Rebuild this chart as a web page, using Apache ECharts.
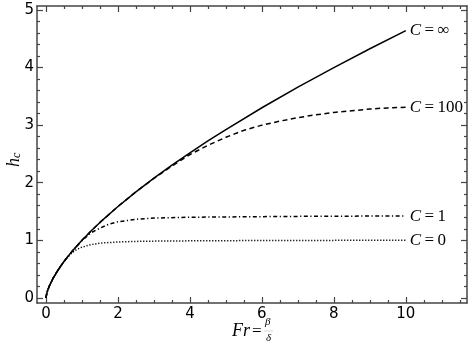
<!DOCTYPE html>
<html>
<head>
<meta charset="utf-8">
<script src="https://cdn.jsdelivr.net/npm/echarts@6/dist/echarts.min.js"></script>
<style>
html,body{margin:0;padding:0;background:#fff;}
#chart{width:474px;height:353px;}
</style>
</head>
<body>
<div id="chart"></div>
<script>
// ---- data ----
var xInf = [0, 0.02, 0.05, 0.1, 0.2, 0.3, 0.4, 0.5, 0.6, 0.75, 1, 1.25, 1.5, 2, 2.5, 3, 3.5, 4, 4.5, 5, 6, 7, 8, 9, 10];
var hInf = [0, 0.074, 0.136, 0.215, 0.342, 0.448, 0.543, 0.630, 0.711, 0.825, 1.0, 1.160, 1.310, 1.587, 1.842, 2.080, 2.305, 2.520, 2.726, 2.924, 3.302, 3.659, 4.0, 4.327, 4.642];

var x100 = [0, 0.02, 0.05, 0.1, 0.2, 0.3, 0.4, 0.5, 0.6, 0.75, 1, 1.25, 1.5, 2, 2.5, 3, 3.5, 4, 4.5, 5, 5.5, 6, 6.5, 7, 7.5, 8, 8.5, 9, 9.5, 10];
var h100 = [0, 0.074, 0.136, 0.215, 0.342, 0.448, 0.543, 0.630, 0.711, 0.825, 1.0, 1.160, 1.310, 1.587, 1.842, 2.075, 2.29, 2.49, 2.65, 2.79, 2.91, 3.00, 3.07, 3.13, 3.18, 3.22, 3.25, 3.28, 3.30, 3.31];

var x1 = [0, 0.02, 0.05, 0.1, 0.2, 0.3, 0.4, 0.5, 0.6, 0.75, 1, 1.25, 1.5, 1.75, 2, 2.5, 3, 4, 5, 6, 7, 8, 9, 10];
var h1 = [0, 0.074, 0.136, 0.215, 0.342, 0.448, 0.543, 0.630, 0.711, 0.825, 0.995, 1.13, 1.21, 1.28, 1.32, 1.365, 1.385, 1.40, 1.405, 1.41, 1.415, 1.418, 1.42, 1.42];

var x0 = [0, 0.02, 0.05, 0.1, 0.2, 0.3, 0.4, 0.5, 0.6, 0.7, 0.85, 1, 1.25, 1.5, 2, 2.5, 3, 4, 5, 6, 8, 10];
var h0 = [0, 0.074, 0.136, 0.215, 0.342, 0.448, 0.543, 0.630, 0.705, 0.77, 0.84, 0.88, 0.925, 0.95, 0.97, 0.98, 0.985, 0.99, 0.993, 0.995, 0.998, 1.0];

var labelInf = 'C=∞';
var label100 = 'C=100';
var label1 = 'C=1';
var label0 = 'C=0';

var xMajor = [0, 2, 4, 6, 8, 10];
var xMinor = [0.5, 1, 1.5, 2.5, 3, 3.5, 4.5, 5, 5.5, 6.5, 7, 7.5, 8.5, 9, 9.5, 10.5, 11, 11.5];
var yMajor = [0, 1, 2, 3, 4, 5];
var yMinor = [0.2, 0.4, 0.6, 0.8, 1.2, 1.4, 1.6, 1.8, 2.2, 2.4, 2.6, 2.8, 3.2, 3.4, 3.6, 3.8, 4.2, 4.4, 4.6, 4.8];

// ---- chart ----
function pairs(xs, ys) { return xs.map(function (x, i) { return [x, ys[i]]; }); }

var XMIN = -0.25, XMAX = 11.7, YMIN = -0.09, YMAX = 5.07;
var axisCol = '#444';
var serif = '"Liberation Serif", "DejaVu Serif", serif';

function xAx(pos, vals, len, showLine, showLabel) {
  return {
    type: 'value', position: pos, min: XMIN, max: XMAX,
    axisLine: { show: showLine, onZero: false, lineStyle: { color: axisCol, width: 1.5 } },
    axisTick: { show: true, inside: true, length: len, customValues: vals, lineStyle: { color: axisCol, width: 1.2 } },
    axisLabel: showLabel ? { show: true, customValues: vals, color: '#000', fontSize: 15, fontFamily: '"DejaVu Sans", sans-serif', margin: 4 } : { show: false },
    splitLine: { show: false }
  };
}
function yAx(pos, vals, len, showLine, showLabel) {
  return {
    type: 'value', position: pos, min: YMIN, max: YMAX,
    axisLine: { show: showLine, onZero: false, lineStyle: { color: axisCol, width: 1.5 } },
    axisTick: { show: true, inside: true, length: len, customValues: vals, lineStyle: { color: axisCol, width: 1.2 } },
    axisLabel: showLabel ? { show: true, customValues: vals, color: '#000', fontSize: 15, fontFamily: '"DejaVu Sans", sans-serif', margin: 3 } : { show: false },
    splitLine: { show: false }
  };
}

function endLab(text) {
  var rest = text.slice(2);
  return {
    show: true, distance: 4,
    formatter: '{i|C}{n|\u2009=\u2009' + rest + '}',
    rich: {
      i: { fontFamily: serif, fontStyle: 'italic', fontSize: 17, color: '#000' },
      n: { fontFamily: serif, fontSize: 17, color: '#000' }
    }
  };
}

function ser(xs, ys, type, lab) {
  return {
    type: 'line', xAxisIndex: 0, yAxisIndex: 0,
    data: pairs(xs, ys), showSymbol: false, symbol: 'none', smooth: false,
    lineStyle: { color: '#000', width: 1.5, type: type },
    endLabel: endLab(lab), animation: false
  };
}

var chart = echarts.init(document.getElementById('chart'), null, { renderer: 'canvas' });
chart.setOption({
  animation: false,
  backgroundColor: '#fff',
  grid: { left: 37, right: 7, top: 6, bottom: 50, containLabel: false },
  xAxis: [
    xAx('bottom', xMajor, 6, true, true),
    xAx('bottom', xMinor, 3, false, false),
    xAx('top', xMajor, 6, true, false),
    xAx('top', xMinor, 3, false, false)
  ],
  yAxis: [
    yAx('left', yMajor, 6, true, true),
    yAx('left', yMinor, 3, false, false),
    yAx('right', yMajor, 6, true, false),
    yAx('right', yMinor, 3, false, false)
  ],
  series: [
    ser(xInf, hInf, 'solid', labelInf),
    ser(x100, h100, [5, 3.5], label100),
    ser(x1, h1, [4, 2.5, 1.2, 2.5], label1),
    ser(x0, h0, [1.2, 1.8], label0)
  ],
  graphic: [
    { type: 'text', x: 5, y: 167, rotation: Math.PI / 2,
      style: { text: '{h|h}{c|c}', rich: {
        h: { fontFamily: serif, fontStyle: 'italic', fontSize: 18, fill: '#000' },
        c: { fontFamily: serif, fontStyle: 'italic', fontSize: 12, fill: '#000', padding: [6, 0, 0, 0] }
      } } },
    { type: 'text', x: 232, y: 322,
      style: { text: 'Fr', fontFamily: serif, fontStyle: 'italic', fontSize: 18, fill: '#000' } },
    { type: 'text', x: 252, y: 323,
      style: { text: '=', fontFamily: serif, fontSize: 17, fill: '#000' } },
    { type: 'text', x: 265, y: 317,
      style: { text: 'β', fontFamily: serif, fontStyle: 'italic', fontSize: 11, fill: '#000' } },
    { type: 'line', shape: { x1: 264, y1: 331, x2: 273, y2: 331 }, style: { stroke: '#bbb', lineWidth: 0.6 } },
    { type: 'text', x: 266, y: 333,
      style: { text: 'δ', fontFamily: serif, fontStyle: 'italic', fontSize: 11, fill: '#000' } }
  ]
});
</script>
</body>
</html>
